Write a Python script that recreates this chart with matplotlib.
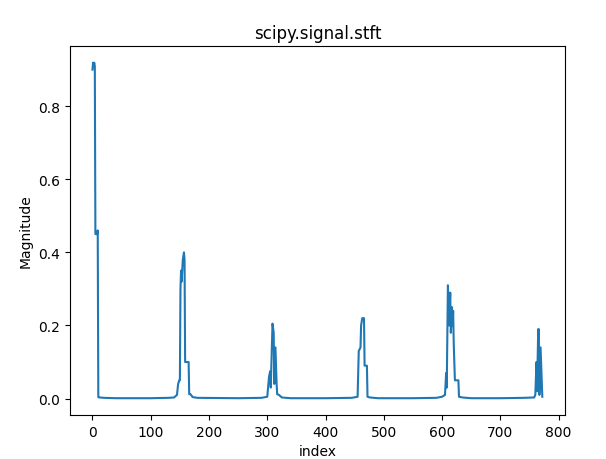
import matplotlib
matplotlib.use("Agg")
import matplotlib.pyplot as plt

index = [0,1,2,3,4,5,6,8,9,10,12,20,40,100,130,140,145,147,149,150,151,152,153,155,157,158,159,162,165,166,168,172,180,250,
         290,300,303,305,306,308,309,311,312,314,316,317,320,325,340,400,445,455,457,460,461,463,466,467,471,472,476,490,550,
         590,600,605,607,608,610,612,614,615,617,618,619,620,622,628,629,635,650,700,740,758,760,762,763,765,766,767,769,772]
magnitude = [0.90,0.919,0.91,0.919,0.91,0.45,0.45,0.45,0.46,0.004,0.003,0.002,0.001,0.001,0.002,0.003,0.01,0.04,0.05,0.05,0.30,0.35,0.32,0.38,0.40,0.38,0.10,0.10,0.10,0.012,0.012,0.004,0.002,0.001,
             0.002,0.005,0.06,0.075,0.03,0.15,0.205,0.18,0.04,0.14,0.04,0.012,0.01,0.003,0.001,0.001,0.002,0.005,0.13,0.14,0.20,0.22,0.22,0.09,0.09,0.005,0.003,0.001,0.001,
             0.002,0.005,0.01,0.07,0.03,0.31,0.20,0.29,0.18,0.25,0.20,0.24,0.15,0.05,0.05,0.005,0.003,0.001,0.001,0.002,0.003,0.01,0.10,0.02,0.19,0.19,0.01,0.14,0.005]

fig, ax = plt.subplots(figsize=(6.06, 4.60), dpi=100)
fig.subplots_adjust(left=0.1155, right=0.932, bottom=0.0957, top=0.898)
ax.plot(index, magnitude, color="#1f77b4")
ax.set_title("scipy.signal.stft")
ax.set_xlabel("index")
ax.set_ylabel("Magnitude")
fig.savefig("out.png")
